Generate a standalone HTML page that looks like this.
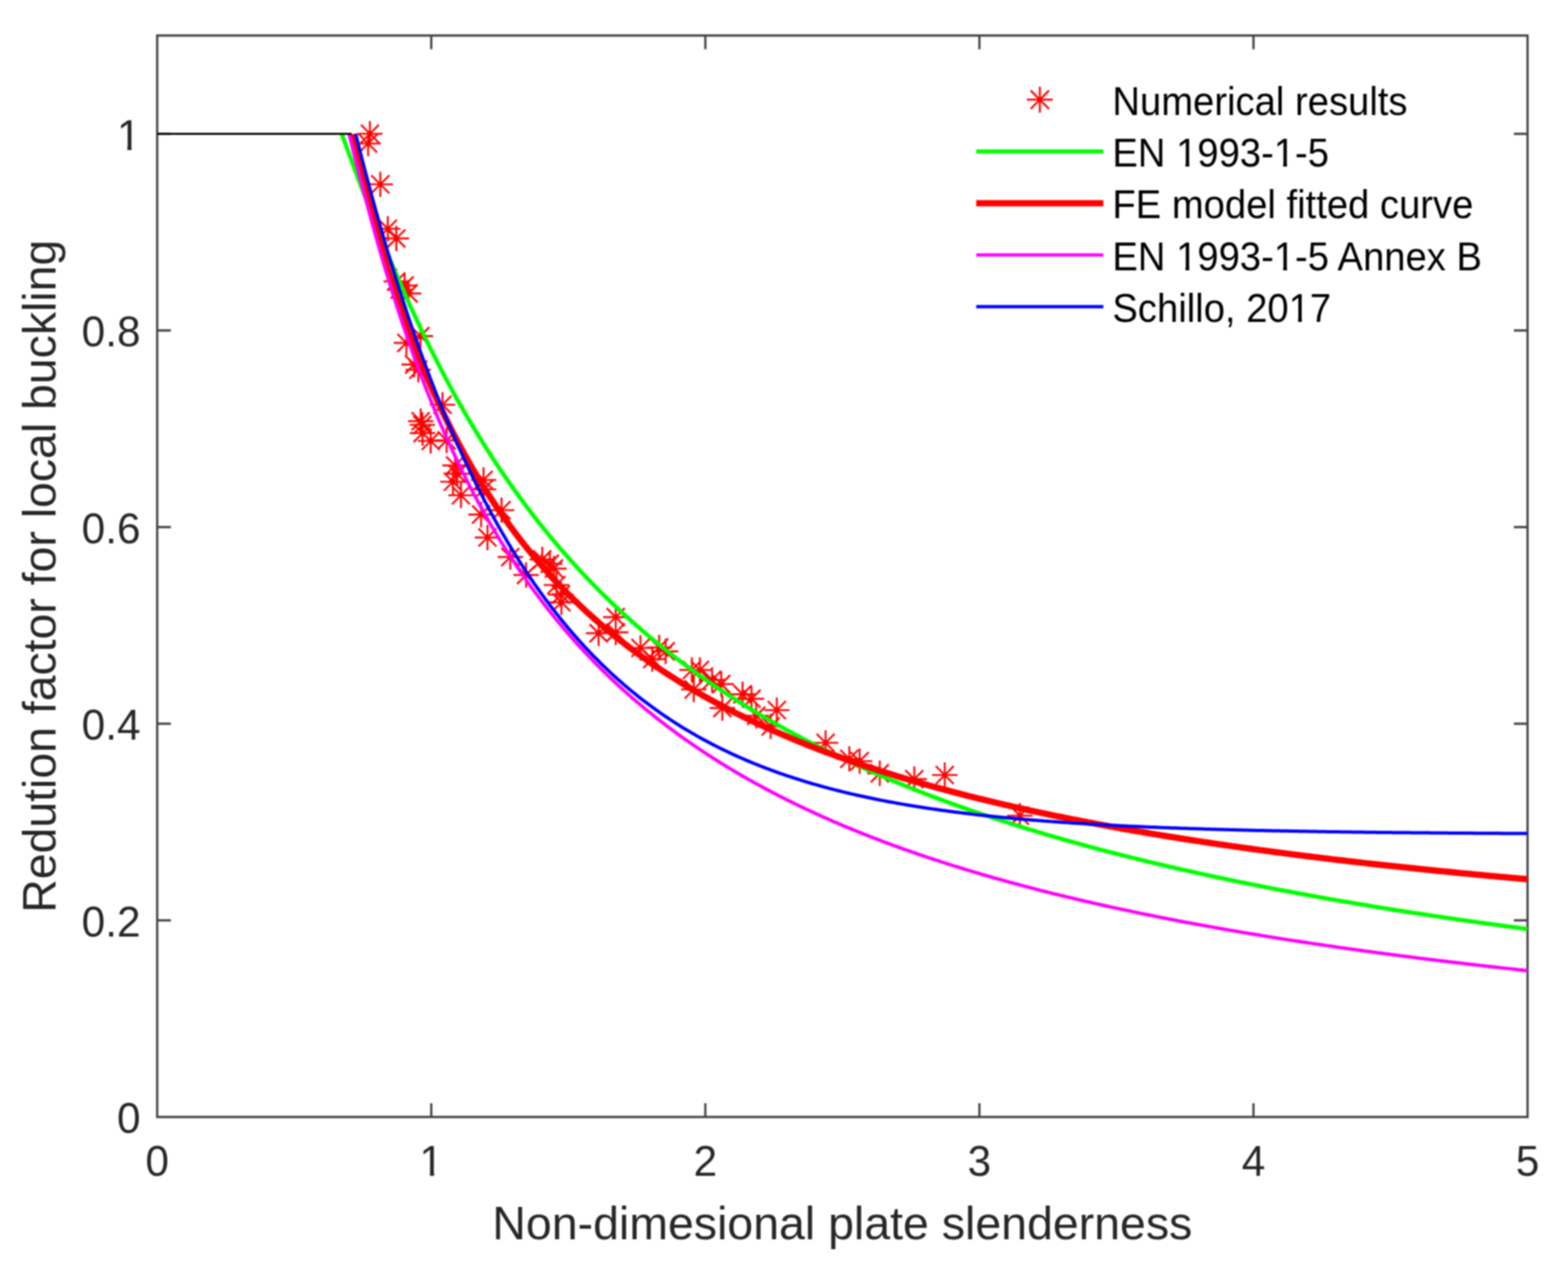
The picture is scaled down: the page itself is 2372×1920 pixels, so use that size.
<!DOCTYPE html><html><head><meta charset="utf-8"><title>Reduction factor plot</title>
<style>html,body{margin:0;padding:0;background:#fff;}svg{display:block;filter:blur(0.8px);}text{font-family:"Liberation Sans",Arial,Helvetica,sans-serif;fill:#262626;}</style></head><body>
<svg xmlns="http://www.w3.org/2000/svg" width="2372" height="1920" viewBox="0 0 2372 1920">
<rect width="2372" height="1920" fill="#fff"/>
<path d="M237.80 1690.00H2310.80V53.75H237.80ZM652.40 1690.00V1671.00M652.40 53.75V72.75M1067.00 1690.00V1671.00M1067.00 53.75V72.75M1481.60 1690.00V1671.00M1481.60 53.75V72.75M1896.20 1690.00V1671.00M1896.20 53.75V72.75M237.80 1392.50H256.80M2310.80 1392.50H2291.80M237.80 1095.00H256.80M2310.80 1095.00H2291.80M237.80 797.50H256.80M2310.80 797.50H2291.80M237.80 500.00H256.80M2310.80 500.00H2291.80M237.80 202.50H256.80M2310.80 202.50H2291.80" fill="none" stroke="#444444" stroke-width="3.40" stroke-linecap="square"/>
<clipPath id="c"><rect x="237.80" y="53.75" width="2073.00" height="1636.25"/></clipPath>
<g clip-path="url(#c)" fill="none" stroke-linejoin="round">
<path d="M559.6 183.2V221.6M540.4 202.4H578.8M546.0 188.8L573.2 216.0M546.0 216.0L573.2 188.8M556.9 197.9V236.3M537.7 217.1H576.1M543.3 203.5L570.5 230.7M543.3 230.7L570.5 203.5M575.3 259.7V298.1M556.1 278.9H594.5M561.7 265.3L588.9 292.5M561.7 292.5L588.9 265.3M586.7 326.9V365.3M567.5 346.1H605.9M573.1 332.5L600.3 359.7M573.1 359.7L600.3 332.5M599.6 341.6V380.0M580.4 360.8H618.8M586.0 347.2L613.2 374.4M586.0 374.4L613.2 347.2M612.0 412.8V451.2M592.8 432.0H631.2M598.4 418.4L625.6 445.6M598.4 445.6L625.6 418.4M618.1 424.8V463.2M598.9 444.0H637.3M604.5 430.4L631.7 457.6M604.5 457.6L631.7 430.4M599.5 406.6V445.0M580.3 425.8H618.7M585.9 412.2L613.1 439.4M585.9 439.4L613.1 412.2M604.6 419.0V457.4M585.4 438.2H623.8M591.0 424.6L618.2 451.8M591.0 451.8L618.2 424.6M636.0 489.3V527.7M616.8 508.5H655.2M622.4 494.9L649.6 522.1M622.4 522.1L649.6 494.9M614.8 499.6V538.0M595.6 518.8H634.0M601.2 505.2L628.4 532.4M601.2 532.4L628.4 505.2M626.5 532.3V570.7M607.3 551.5H645.7M612.9 537.9L640.1 565.1M612.9 565.1L640.1 537.9M632.8 540.2V578.6M613.6 559.4H652.0M619.2 545.8L646.4 573.0M619.2 573.0L646.4 545.8M669.4 593.2V631.6M650.2 612.4H688.6M655.8 598.8L683.0 626.0M655.8 626.0L683.0 598.8M636.4 618.1V656.5M617.2 637.3H655.6M622.8 623.7L650.0 650.9M622.8 650.9L650.0 623.7M638.9 623.7V662.1M619.7 642.9H658.1M625.3 629.3L652.5 656.5M625.3 656.5L652.5 629.3M639.3 636.1V674.5M620.1 655.3H658.5M625.7 641.7L652.9 668.9M625.7 668.9L652.9 641.7M651.5 647.9V686.3M632.3 667.1H670.7M637.9 653.5L665.1 680.7M637.9 680.7L665.1 653.5M675.7 647.1V685.5M656.5 666.3H694.9M662.1 652.7L689.3 679.9M662.1 679.9L689.3 652.7M688.4 685.1V723.5M669.2 704.3H707.6M674.8 690.7L702.0 717.9M674.8 717.9L702.0 690.7M691.6 697.6V736.0M672.4 716.8H710.8M678.0 703.2L705.2 730.4M678.0 730.4L705.2 703.2M685.2 709.7V748.1M666.0 728.9H704.4M671.6 715.3L698.8 742.5M671.6 742.5L698.8 715.3M697.3 730.2V768.6M678.1 749.4H716.5M683.7 735.8L710.9 763.0M683.7 763.0L710.9 735.8M731.5 706.9V745.3M712.3 726.1H750.7M717.9 712.5L745.1 739.7M717.9 739.7L745.1 712.5M758.7 752.7V791.1M739.5 771.9H777.9M745.1 758.3L772.3 785.5M745.1 785.5L772.3 758.3M727.8 759.3V797.7M708.6 778.5H747.0M714.2 764.9L741.4 792.1M714.2 792.1L741.4 764.9M731.7 721.2V759.6M712.5 740.4H750.9M718.1 726.8L745.3 754.0M718.1 754.0L745.3 726.8M737.4 794.0V832.4M718.2 813.2H756.6M723.8 799.6L751.0 826.8M723.8 826.8L751.0 799.6M772.0 823.6V862.0M752.8 842.8H791.2M758.4 829.2L785.6 856.4M758.4 856.4L785.6 829.2M795.8 850.8V889.2M776.6 870.0H815.0M782.2 856.4L809.4 883.6M782.2 883.6L809.4 856.4M820.3 827.3V865.7M801.1 846.5H839.5M806.7 832.9L833.9 860.1M806.7 860.1L833.9 832.9M831.7 833.8V872.2M812.5 853.0H850.9M818.1 839.4L845.3 866.6M818.1 866.6L845.3 839.4M837.9 841.0V879.4M818.7 860.2H857.1M824.3 846.6L851.5 873.8M824.3 873.8L851.5 846.6M841.8 865.9V904.3M822.6 885.1H861.0M828.2 871.5L855.4 898.7M828.2 898.7L855.4 871.5M848.5 880.4V918.8M829.3 899.6H867.7M834.9 886.0L862.1 913.2M834.9 913.2L862.1 886.0M849.3 892.0V930.4M830.1 911.2H868.5M835.7 897.6L862.9 924.8M835.7 924.8L862.9 897.6M905.5 938.8V977.2M886.3 958.0H924.7M891.9 944.4L919.1 971.6M891.9 971.6L919.1 944.4M931.4 914.5V952.9M912.2 933.7H950.6M917.8 920.1L945.0 947.3M917.8 947.3L945.0 920.1M931.4 937.6V976.0M912.2 956.8H950.6M917.8 943.2L945.0 970.4M917.8 970.4L945.0 943.2M968.9 961.2V999.6M949.7 980.4H988.1M955.3 966.8L982.5 994.0M955.3 994.0L982.5 966.8M986.7 978.0V1016.4M967.5 997.2H1005.9M973.1 983.6L1000.3 1010.8M973.1 1010.8L1000.3 983.6M997.1 960.5V998.9M977.9 979.7H1016.3M983.5 966.1L1010.7 993.3M983.5 993.3L1010.7 966.1M1007.0 966.3V1004.7M987.8 985.5H1026.2M993.4 971.9L1020.6 999.1M993.4 999.1L1020.6 971.9M1049.5 1023.9V1062.3M1030.3 1043.1H1068.7M1035.9 1029.5L1063.1 1056.7M1035.9 1056.7L1063.1 1029.5M1046.7 994.4V1032.8M1027.5 1013.6H1065.9M1033.1 1000.0L1060.3 1027.2M1033.1 1027.2L1060.3 1000.0M1058.8 994.4V1032.8M1039.6 1013.6H1078.0M1045.2 1000.0L1072.4 1027.2M1045.2 1027.2L1072.4 1000.0M1077.2 1009.4V1047.8M1058.0 1028.6H1096.4M1063.6 1015.0L1090.8 1042.2M1063.6 1042.2L1090.8 1015.0M1091.1 1015.8V1054.2M1071.9 1035.0H1110.3M1077.5 1021.4L1104.7 1048.6M1077.5 1048.6L1104.7 1021.4M1092.7 1052.1V1090.5M1073.5 1071.3H1111.9M1079.1 1057.7L1106.3 1084.9M1079.1 1084.9L1106.3 1057.7M1123.3 1031.3V1069.7M1104.1 1050.5H1142.5M1109.7 1036.9L1136.9 1064.1M1109.7 1064.1L1136.9 1036.9M1136.9 1038.0V1076.4M1117.7 1057.2H1156.1M1123.3 1043.6L1150.5 1070.8M1123.3 1070.8L1150.5 1043.6M1175.1 1055.2V1093.6M1155.9 1074.4H1194.3M1161.5 1060.8L1188.7 1088.0M1161.5 1088.0L1188.7 1060.8M1165.9 1079.9V1118.3M1146.7 1099.1H1185.1M1152.3 1085.5L1179.5 1112.7M1152.3 1112.7L1179.5 1085.5M1144.0 1063.8V1102.2M1124.8 1083.0H1163.2M1130.4 1069.4L1157.6 1096.6M1130.4 1096.6L1157.6 1069.4M1248.9 1104.7V1143.1M1229.7 1123.9H1268.1M1235.3 1110.3L1262.5 1137.5M1235.3 1137.5L1262.5 1110.3M1284.8 1128.9V1167.3M1265.6 1148.1H1304.0M1271.2 1134.5L1298.4 1161.7M1271.2 1161.7L1298.4 1134.5M1300.4 1132.4V1170.8M1281.2 1151.6H1319.6M1286.8 1138.0L1314.0 1165.2M1286.8 1165.2L1314.0 1138.0M1330.9 1150.8V1189.2M1311.7 1170.0H1350.1M1317.3 1156.4L1344.5 1183.6M1317.3 1183.6L1344.5 1156.4M1383.1 1159.6V1198.0M1363.9 1178.8H1402.3M1369.5 1165.2L1396.7 1192.4M1369.5 1192.4L1396.7 1165.2M1429.2 1153.4V1191.8M1410.0 1172.6H1448.4M1415.6 1159.0L1442.8 1186.2M1415.6 1186.2L1442.8 1159.0M1542.8 1214.9V1253.3M1523.6 1234.1H1562.0M1529.2 1220.5L1556.4 1247.7M1529.2 1247.7L1556.4 1220.5" stroke="#ff0000" stroke-width="2.9"/>
<path d="M516.83,202.50 L518.11,205.79 L519.40,209.31 L520.68,212.83 L521.97,216.35 L523.25,219.86 L524.54,223.37 L525.82,226.88 L527.11,230.38 L528.39,233.88 L529.68,237.37 L530.97,240.85 L532.25,244.34 L533.54,247.81 L534.82,251.28 L536.11,254.74 L537.39,258.20 L538.68,261.65 L539.96,265.10 L541.25,268.53 L542.53,271.96 L543.82,275.39 L545.10,278.80 L546.39,282.21 L547.68,285.61 L548.96,289.00 L550.25,292.38 L551.53,295.76 L552.82,299.12 L554.10,302.48 L555.39,305.83 L556.67,309.17 L557.96,312.50 L559.24,315.83 L560.53,319.14 L561.81,322.44 L563.10,325.74 L564.39,329.03 L565.67,332.30 L566.96,335.57 L568.24,338.82 L569.53,342.07 L570.81,345.31 L572.10,348.54 L573.38,351.75 L574.67,354.96 L575.95,358.16 L577.24,361.35 L578.52,364.53 L579.81,367.69 L581.10,370.85 L582.38,374.00 L583.67,377.13 L584.95,380.26 L586.24,383.38 L587.52,386.48 L588.81,389.58 L590.09,392.66 L591.38,395.74 L592.66,398.80 L593.95,401.85 L595.24,404.90 L596.52,407.93 L597.81,410.95 L599.09,413.97 L600.38,416.97 L601.66,419.96 L602.95,422.94 L604.23,425.91 L605.52,428.87 L606.80,431.82 L608.09,434.75 L609.37,437.68 L610.66,440.60 L611.95,443.51 L613.23,446.40 L614.52,449.29 L615.80,452.17 L617.09,455.03 L618.37,457.89 L619.66,460.73 L620.94,463.56 L622.23,466.39 L623.51,469.20 L624.80,472.01 L626.08,474.80 L627.37,477.58 L628.66,480.35 L629.94,483.11 L631.23,485.87 L632.51,488.61 L633.80,491.34 L635.08,494.06 L636.37,496.77 L637.65,499.47 L638.94,502.16 L640.22,504.85 L641.51,507.52 L642.79,510.18 L644.08,512.83 L645.37,515.47 L646.65,518.10 L647.94,520.72 L649.22,523.33 L650.51,525.94 L651.79,528.53 L653.08,531.11 L654.36,533.68 L655.65,536.25 L656.93,538.80 L658.22,541.34 L659.51,543.88 L660.79,546.40 L662.08,548.92 L663.36,551.42 L664.65,553.92 L665.93,556.41 L667.22,558.88 L668.50,561.35 L669.79,563.81 L671.07,566.26 L672.36,568.70 L673.64,571.13 L674.93,573.55 L676.22,575.97 L677.50,578.37 L678.79,580.76 L680.07,583.15 L681.36,585.53 L682.64,587.89 L683.93,590.25 L685.21,592.60 L686.50,594.94 L687.78,597.28 L689.07,599.60 L690.35,601.91 L691.64,604.22 L692.93,606.52 L694.21,608.81 L695.50,611.09 L696.78,613.36 L698.07,615.62 L699.35,617.88 L700.64,620.12 L701.92,622.36 L703.21,624.59 L704.49,626.81 L705.78,629.02 L707.06,631.23 L708.35,633.42 L709.64,635.61 L710.92,637.79 L712.21,639.96 L713.49,642.13 L714.78,644.28 L716.06,646.43 L717.35,648.57 L718.63,650.70 L719.92,652.83 L721.20,654.94 L722.49,657.05 L723.77,659.15 L725.06,661.24 L726.35,663.33 L727.63,665.41 L728.92,667.48 L730.20,669.54 L731.49,671.59 L732.77,673.64 L734.06,675.68 L735.34,677.71 L736.63,679.74 L737.91,681.75 L739.20,683.76 L740.49,685.76 L741.77,687.76 L743.06,689.75 L744.34,691.73 L745.63,693.70 L746.91,695.67 L748.20,697.63 L749.48,699.58 L750.77,701.52 L752.05,703.46 L753.34,705.39 L754.62,707.31 L755.91,709.23 L757.20,711.14 L758.48,713.04 L759.77,714.94 L761.05,716.83 L762.34,718.71 L763.62,720.59 L764.91,722.46 L766.19,724.32 L767.48,726.18 L768.76,728.02 L770.05,729.87 L771.33,731.70 L772.62,733.53 L773.91,735.36 L775.19,737.17 L776.48,738.98 L777.76,740.79 L779.05,742.58 L780.33,744.37 L781.62,746.16 L782.90,747.94 L784.19,749.71 L785.47,751.47 L786.76,753.23 L788.04,754.99 L789.33,756.73 L790.62,758.47 L791.90,760.21 L793.19,761.94 L794.47,763.66 L795.76,765.38 L797.04,767.09 L798.33,768.79 L799.61,770.49 L800.90,772.19 L802.18,773.87 L803.47,775.55 L804.76,777.23 L806.04,778.90 L807.33,780.56 L808.61,782.22 L809.90,783.87 L811.18,785.52 L812.47,787.16 L813.75,788.80 L815.04,790.43 L816.32,792.05 L817.61,793.67 L818.89,795.29 L820.18,796.89 L821.47,798.50 L822.75,800.09 L824.04,801.68 L825.32,803.27 L826.61,804.85 L827.89,806.43 L829.18,808.00 L830.46,809.56 L831.75,811.12 L833.03,812.68 L834.32,814.22 L835.60,815.77 L836.89,817.31 L838.18,818.84 L839.46,820.37 L840.75,821.89 L842.03,823.41 L843.32,824.92 L844.60,826.43 L845.89,827.94 L847.17,829.43 L848.46,830.93 L849.74,832.42 L851.03,833.90 L852.31,835.38 L853.60,836.85 L854.89,838.32 L856.17,839.78 L857.46,841.24 L858.74,842.70 L860.03,844.15 L861.31,845.59 L862.60,847.03 L863.88,848.47 L865.17,849.90 L866.45,851.32 L867.74,852.75 L869.03,854.16 L870.31,855.57 L871.60,856.98 L872.88,858.39 L874.17,859.78 L875.45,861.18 L876.74,862.57 L878.02,863.95 L879.31,865.33 L880.59,866.71 L881.88,868.08 L883.16,869.45 L884.45,870.81 L885.74,872.17 L887.02,873.53 L888.31,874.88 L889.59,876.22 L890.88,877.56 L892.16,878.90 L893.45,880.23 L894.73,881.56 L896.02,882.89 L897.30,884.21 L898.59,885.52 L899.87,886.84 L901.16,888.14 L905.87,892.91 L910.59,897.62 L915.30,902.27 L920.02,906.87 L924.73,911.42 L929.45,915.92 L934.16,920.37 L938.88,924.78 L943.59,929.13 L948.31,933.43 L953.02,937.69 L957.73,941.90 L962.45,946.07 L967.16,950.19 L971.88,954.26 L976.59,958.30 L981.31,962.29 L986.02,966.23 L990.74,970.14 L995.45,974.01 L1000.16,977.83 L1004.88,981.62 L1009.59,985.37 L1014.31,989.07 L1019.02,992.74 L1023.74,996.38 L1028.45,999.97 L1033.17,1003.53 L1037.88,1007.06 L1042.60,1010.55 L1047.31,1014.00 L1052.02,1017.42 L1056.74,1020.81 L1061.45,1024.16 L1066.17,1027.48 L1070.88,1030.77 L1075.60,1034.02 L1080.31,1037.25 L1085.03,1040.44 L1089.74,1043.61 L1094.46,1046.74 L1099.17,1049.84 L1103.88,1052.92 L1108.60,1055.96 L1113.31,1058.98 L1118.03,1061.97 L1122.74,1064.93 L1127.46,1067.86 L1132.17,1070.77 L1136.89,1073.65 L1141.60,1076.50 L1146.31,1079.33 L1151.03,1082.13 L1155.74,1084.91 L1160.46,1087.66 L1165.17,1090.39 L1169.89,1093.10 L1174.60,1095.78 L1179.32,1098.43 L1184.03,1101.06 L1188.75,1103.67 L1193.46,1106.26 L1198.17,1108.83 L1202.89,1111.37 L1207.60,1113.89 L1212.32,1116.39 L1217.03,1118.87 L1221.75,1121.32 L1226.46,1123.76 L1231.18,1126.17 L1235.89,1128.57 L1240.61,1130.95 L1245.32,1133.30 L1250.03,1135.64 L1254.75,1137.95 L1259.46,1140.25 L1264.18,1142.53 L1268.89,1144.79 L1273.61,1147.03 L1278.32,1149.26 L1283.04,1151.46 L1287.75,1153.65 L1292.46,1155.82 L1297.18,1157.97 L1301.89,1160.11 L1306.61,1162.23 L1311.32,1164.33 L1316.04,1166.42 L1320.75,1168.49 L1325.47,1170.54 L1330.18,1172.58 L1334.90,1174.60 L1339.61,1176.61 L1344.32,1178.60 L1349.04,1180.57 L1353.75,1182.53 L1358.47,1184.48 L1363.18,1186.41 L1367.90,1188.33 L1372.61,1190.23 L1377.33,1192.11 L1382.04,1193.99 L1386.76,1195.85 L1391.47,1197.69 L1396.18,1199.53 L1400.90,1201.35 L1405.61,1203.15 L1410.33,1204.94 L1415.04,1206.72 L1419.76,1208.49 L1424.47,1210.24 L1429.19,1211.98 L1433.90,1213.71 L1438.61,1215.43 L1443.33,1217.13 L1448.04,1218.82 L1452.76,1220.50 L1457.47,1222.17 L1462.19,1223.83 L1466.90,1225.47 L1471.62,1227.11 L1476.33,1228.73 L1481.05,1230.34 L1485.76,1231.94 L1490.47,1233.53 L1495.19,1235.10 L1499.90,1236.67 L1504.62,1238.23 L1509.33,1239.77 L1514.05,1241.31 L1518.76,1242.83 L1523.48,1244.35 L1528.19,1245.85 L1532.91,1247.35 L1537.62,1248.83 L1542.33,1250.31 L1547.05,1251.77 L1551.76,1253.22 L1556.48,1254.67 L1561.19,1256.11 L1565.91,1257.53 L1570.62,1258.95 L1575.34,1260.36 L1580.05,1261.76 L1584.76,1263.15 L1589.48,1264.53 L1594.19,1265.90 L1598.91,1267.26 L1603.62,1268.62 L1608.34,1269.96 L1613.05,1271.30 L1617.77,1272.63 L1622.48,1273.95 L1627.20,1275.27 L1631.91,1276.57 L1636.62,1277.87 L1641.34,1279.15 L1646.05,1280.43 L1650.77,1281.71 L1655.48,1282.97 L1660.20,1284.23 L1664.91,1285.48 L1669.63,1286.72 L1674.34,1287.95 L1679.05,1289.18 L1683.77,1290.40 L1688.48,1291.61 L1693.20,1292.81 L1697.91,1294.01 L1702.63,1295.20 L1707.34,1296.38 L1712.06,1297.56 L1716.77,1298.73 L1721.49,1299.89 L1726.20,1301.04 L1730.91,1302.19 L1735.63,1303.33 L1740.34,1304.47 L1745.06,1305.60 L1749.77,1306.72 L1754.49,1307.83 L1759.20,1308.94 L1763.92,1310.04 L1768.63,1311.14 L1773.35,1312.23 L1778.06,1313.31 L1782.77,1314.39 L1787.49,1315.46 L1792.20,1316.53 L1796.92,1317.59 L1801.63,1318.64 L1806.35,1319.69 L1811.06,1320.73 L1815.78,1321.76 L1820.49,1322.79 L1825.20,1323.82 L1829.92,1324.84 L1834.63,1325.85 L1839.35,1326.86 L1844.06,1327.86 L1848.78,1328.85 L1853.49,1329.84 L1858.21,1330.83 L1862.92,1331.81 L1867.64,1332.78 L1872.35,1333.75 L1877.06,1334.72 L1881.78,1335.68 L1886.49,1336.63 L1891.21,1337.58 L1895.92,1338.52 L1900.64,1339.46 L1905.35,1340.40 L1910.07,1341.32 L1914.78,1342.25 L1919.50,1343.17 L1924.21,1344.08 L1928.92,1344.99 L1933.64,1345.89 L1938.35,1346.79 L1943.07,1347.69 L1947.78,1348.58 L1952.50,1349.47 L1957.21,1350.35 L1961.93,1351.22 L1966.64,1352.10 L1971.35,1352.97 L1976.07,1353.83 L1980.78,1354.69 L1985.50,1355.54 L1990.21,1356.39 L1994.93,1357.24 L1999.64,1358.08 L2004.36,1358.92 L2009.07,1359.75 L2013.79,1360.58 L2018.50,1361.41 L2023.21,1362.23 L2027.93,1363.04 L2032.64,1363.86 L2037.36,1364.67 L2042.07,1365.47 L2046.79,1366.27 L2051.50,1367.07 L2056.22,1367.86 L2060.93,1368.65 L2065.65,1369.44 L2070.36,1370.22 L2075.07,1370.99 L2079.79,1371.77 L2084.50,1372.54 L2089.22,1373.31 L2093.93,1374.07 L2098.65,1374.83 L2103.36,1375.58 L2108.08,1376.33 L2112.79,1377.08 L2117.50,1377.83 L2122.22,1378.57 L2126.93,1379.31 L2131.65,1380.04 L2136.36,1380.77 L2141.08,1381.50 L2145.79,1382.22 L2150.51,1382.94 L2155.22,1383.66 L2159.94,1384.38 L2164.65,1385.09 L2169.36,1385.79 L2174.08,1386.50 L2178.79,1387.20 L2183.51,1387.90 L2188.22,1388.59 L2192.94,1389.28 L2197.65,1389.97 L2202.37,1390.65 L2207.08,1391.34 L2211.80,1392.01 L2216.51,1392.69 L2221.22,1393.36 L2225.94,1394.03 L2230.65,1394.70 L2235.37,1395.36 L2240.08,1396.02 L2244.80,1396.68 L2249.51,1397.34 L2254.23,1397.99 L2258.94,1398.64 L2263.65,1399.28 L2268.37,1399.93 L2273.08,1400.57 L2277.80,1401.20 L2282.51,1401.84 L2287.23,1402.47 L2291.94,1403.10 L2296.66,1403.73 L2301.37,1404.35 L2306.09,1404.97 L2310.80,1405.59" stroke="#00ff00" stroke-width="6.3"/>
<path d="M533.33,202.98 L534.56,208.52 L535.79,214.02 L537.02,219.47 L538.25,224.88 L539.48,230.24 L540.71,235.55 L541.94,240.83 L543.17,246.06 L544.40,251.24 L545.63,256.39 L546.86,261.49 L548.09,266.56 L549.32,271.58 L550.55,276.56 L551.78,281.50 L553.01,286.41 L554.24,291.27 L555.47,296.10 L556.70,300.89 L557.93,305.64 L559.16,310.36 L560.39,315.04 L561.62,319.68 L562.85,324.29 L564.08,328.86 L565.31,333.40 L566.54,337.90 L567.77,342.37 L569.00,346.80 L570.23,351.21 L571.46,355.58 L572.69,359.91 L573.92,364.22 L575.15,368.49 L576.38,372.73 L577.61,376.94 L578.84,381.12 L580.07,385.27 L581.31,389.39 L582.54,393.48 L583.77,397.54 L585.00,401.57 L586.23,405.57 L587.46,409.55 L588.69,413.49 L589.92,417.41 L591.15,421.30 L592.38,425.16 L593.61,429.00 L594.84,432.80 L596.07,436.59 L597.30,440.34 L598.53,444.07 L599.76,447.78 L600.99,451.46 L602.22,455.11 L603.45,458.74 L604.68,462.34 L605.91,465.92 L607.14,469.48 L608.37,473.01 L609.60,476.52 L610.83,480.00 L612.06,483.46 L613.29,486.90 L614.52,490.32 L615.75,493.71 L616.98,497.08 L618.21,500.43 L619.44,503.76 L620.67,507.06 L621.90,510.35 L623.13,513.61 L624.36,516.85 L625.59,520.07 L626.82,523.27 L628.05,526.45 L629.28,529.61 L630.51,532.75 L631.74,535.87 L632.97,538.97 L634.20,542.05 L635.43,545.11 L636.66,548.16 L637.89,551.18 L639.13,554.18 L640.36,557.17 L641.59,560.14 L642.82,563.09 L644.05,566.02 L645.28,568.93 L646.51,571.83 L647.74,574.70 L648.97,577.56 L650.20,580.41 L651.43,583.23 L652.66,586.04 L653.89,588.83 L655.12,591.61 L656.35,594.37 L657.58,597.11 L658.81,599.84 L660.04,602.55 L661.27,605.24 L662.50,607.92 L663.73,610.58 L664.96,613.23 L666.19,615.86 L667.42,618.48 L668.65,621.08 L669.88,623.67 L671.11,626.24 L672.34,628.80 L673.57,631.34 L674.80,633.87 L676.03,636.38 L677.26,638.88 L678.49,641.36 L679.72,643.83 L680.95,646.29 L682.18,648.74 L683.41,651.17 L684.64,653.58 L685.87,655.98 L687.10,658.37 L688.33,660.75 L689.56,663.11 L690.79,665.46 L692.02,667.80 L693.25,670.12 L694.48,672.44 L695.71,674.74 L696.94,677.02 L698.18,679.30 L699.41,681.56 L700.64,683.81 L701.87,686.05 L703.10,688.27 L704.33,690.49 L705.56,692.69 L706.79,694.88 L708.02,697.06 L709.25,699.23 L710.48,701.38 L711.71,703.53 L712.94,705.66 L714.17,707.78 L715.40,709.89 L716.63,711.99 L717.86,714.08 L719.09,716.16 L720.32,718.23 L721.55,720.29 L722.78,722.33 L724.01,724.37 L725.24,726.39 L726.47,728.41 L727.70,730.41 L728.93,732.41 L730.16,734.39 L731.39,736.37 L732.62,738.33 L733.85,740.29 L735.08,742.23 L736.31,744.17 L737.54,746.09 L738.77,748.01 L740.00,749.92 L741.23,751.81 L742.46,753.70 L743.69,755.58 L744.92,757.45 L746.15,759.31 L747.38,761.16 L748.61,763.00 L749.84,764.84 L751.07,766.66 L752.30,768.48 L753.53,770.28 L754.76,772.08 L756.00,773.87 L757.23,775.65 L758.46,777.42 L759.69,779.19 L760.92,780.94 L762.15,782.69 L763.38,784.43 L764.61,786.16 L765.84,787.88 L767.07,789.59 L768.30,791.30 L769.53,793.00 L770.76,794.69 L771.99,796.37 L773.22,798.05 L774.45,799.71 L775.68,801.37 L776.91,803.02 L778.14,804.67 L779.37,806.30 L780.60,807.93 L781.83,809.55 L783.06,811.17 L784.29,812.77 L785.52,814.37 L786.75,815.96 L787.98,817.55 L789.21,819.13 L790.44,820.70 L791.67,822.26 L792.90,823.82 L794.13,825.37 L795.36,826.91 L796.59,828.44 L797.82,829.97 L799.05,831.49 L800.28,833.01 L801.51,834.52 L802.74,836.02 L803.97,837.52 L805.20,839.00 L806.43,840.49 L807.66,841.96 L808.89,843.43 L810.12,844.89 L811.35,846.35 L812.58,847.80 L813.82,849.24 L815.05,850.68 L816.28,852.11 L817.51,853.54 L818.74,854.96 L819.97,856.37 L821.20,857.78 L822.43,859.18 L823.66,860.57 L824.89,861.96 L826.12,863.35 L827.35,864.72 L828.58,866.10 L829.81,867.46 L831.04,868.82 L832.27,870.18 L833.50,871.53 L834.73,872.87 L835.96,874.21 L837.19,875.54 L838.42,876.87 L839.65,878.19 L840.88,879.50 L842.11,880.81 L843.34,882.12 L844.57,883.42 L845.80,884.71 L847.03,886.00 L848.26,887.28 L849.49,888.56 L850.72,889.83 L851.95,891.10 L853.18,892.36 L854.41,893.62 L855.64,894.88 L856.87,896.12 L858.10,897.37 L859.33,898.60 L860.56,899.84 L861.79,901.06 L863.02,902.29 L864.25,903.50 L865.48,904.72 L866.71,905.93 L867.94,907.13 L869.17,908.33 L870.40,909.52 L871.63,910.71 L872.87,911.90 L874.10,913.08 L875.33,914.25 L876.56,915.42 L877.79,916.59 L879.02,917.75 L880.25,918.91 L881.48,920.06 L882.71,921.21 L883.94,922.35 L885.17,923.49 L886.40,924.63 L887.63,925.76 L888.86,926.89 L890.09,928.01 L891.32,929.13 L892.55,930.24 L893.78,931.35 L895.01,932.45 L896.24,933.55 L897.47,934.65 L898.70,935.74 L899.93,936.83 L901.16,937.92 L905.87,942.04 L910.59,946.10 L915.30,950.10 L920.02,954.05 L924.73,957.94 L929.45,961.78 L934.16,965.56 L938.88,969.30 L943.59,972.98 L948.31,976.62 L953.02,980.20 L957.73,983.74 L962.45,987.23 L967.16,990.68 L971.88,994.08 L976.59,997.44 L981.31,1000.75 L986.02,1004.02 L990.74,1007.25 L995.45,1010.44 L1000.16,1013.59 L1004.88,1016.70 L1009.59,1019.78 L1014.31,1022.81 L1019.02,1025.81 L1023.74,1028.77 L1028.45,1031.69 L1033.17,1034.58 L1037.88,1037.44 L1042.60,1040.26 L1047.31,1043.05 L1052.02,1045.80 L1056.74,1048.53 L1061.45,1051.22 L1066.17,1053.88 L1070.88,1056.51 L1075.60,1059.11 L1080.31,1061.68 L1085.03,1064.22 L1089.74,1066.74 L1094.46,1069.22 L1099.17,1071.68 L1103.88,1074.11 L1108.60,1076.52 L1113.31,1078.89 L1118.03,1081.25 L1122.74,1083.57 L1127.46,1085.88 L1132.17,1088.15 L1136.89,1090.41 L1141.60,1092.64 L1146.31,1094.84 L1151.03,1097.02 L1155.74,1099.18 L1160.46,1101.32 L1165.17,1103.44 L1169.89,1105.53 L1174.60,1107.60 L1179.32,1109.66 L1184.03,1111.69 L1188.75,1113.70 L1193.46,1115.69 L1198.17,1117.66 L1202.89,1119.61 L1207.60,1121.54 L1212.32,1123.46 L1217.03,1125.35 L1221.75,1127.23 L1226.46,1129.08 L1231.18,1130.92 L1235.89,1132.75 L1240.61,1134.55 L1245.32,1136.34 L1250.03,1138.11 L1254.75,1139.87 L1259.46,1141.60 L1264.18,1143.33 L1268.89,1145.03 L1273.61,1146.72 L1278.32,1148.40 L1283.04,1150.06 L1287.75,1151.70 L1292.46,1153.33 L1297.18,1154.95 L1301.89,1156.55 L1306.61,1158.13 L1311.32,1159.71 L1316.04,1161.26 L1320.75,1162.81 L1325.47,1164.34 L1330.18,1165.86 L1334.90,1167.36 L1339.61,1168.85 L1344.32,1170.33 L1349.04,1171.80 L1353.75,1173.25 L1358.47,1174.69 L1363.18,1176.12 L1367.90,1177.53 L1372.61,1178.94 L1377.33,1180.33 L1382.04,1181.71 L1386.76,1183.08 L1391.47,1184.44 L1396.18,1185.79 L1400.90,1187.12 L1405.61,1188.45 L1410.33,1189.76 L1415.04,1191.07 L1419.76,1192.36 L1424.47,1193.64 L1429.19,1194.92 L1433.90,1196.18 L1438.61,1197.43 L1443.33,1198.67 L1448.04,1199.90 L1452.76,1201.13 L1457.47,1202.34 L1462.19,1203.54 L1466.90,1204.74 L1471.62,1205.92 L1476.33,1207.10 L1481.05,1208.27 L1485.76,1209.43 L1490.47,1210.58 L1495.19,1211.72 L1499.90,1212.85 L1504.62,1213.97 L1509.33,1215.09 L1514.05,1216.19 L1518.76,1217.29 L1523.48,1218.38 L1528.19,1219.46 L1532.91,1220.54 L1537.62,1221.60 L1542.33,1222.66 L1547.05,1223.71 L1551.76,1224.76 L1556.48,1225.79 L1561.19,1226.82 L1565.91,1227.84 L1570.62,1228.86 L1575.34,1229.86 L1580.05,1230.86 L1584.76,1231.85 L1589.48,1232.84 L1594.19,1233.82 L1598.91,1234.79 L1603.62,1235.75 L1608.34,1236.71 L1613.05,1237.66 L1617.77,1238.60 L1622.48,1239.54 L1627.20,1240.47 L1631.91,1241.40 L1636.62,1242.32 L1641.34,1243.23 L1646.05,1244.14 L1650.77,1245.04 L1655.48,1245.93 L1660.20,1246.82 L1664.91,1247.70 L1669.63,1248.58 L1674.34,1249.45 L1679.05,1250.31 L1683.77,1251.17 L1688.48,1252.03 L1693.20,1252.87 L1697.91,1253.72 L1702.63,1254.55 L1707.34,1255.38 L1712.06,1256.21 L1716.77,1257.03 L1721.49,1257.85 L1726.20,1258.66 L1730.91,1259.46 L1735.63,1260.26 L1740.34,1261.06 L1745.06,1261.84 L1749.77,1262.63 L1754.49,1263.41 L1759.20,1264.18 L1763.92,1264.95 L1768.63,1265.72 L1773.35,1266.48 L1778.06,1267.24 L1782.77,1267.99 L1787.49,1268.73 L1792.20,1269.47 L1796.92,1270.21 L1801.63,1270.94 L1806.35,1271.67 L1811.06,1272.40 L1815.78,1273.12 L1820.49,1273.83 L1825.20,1274.54 L1829.92,1275.25 L1834.63,1275.95 L1839.35,1276.65 L1844.06,1277.34 L1848.78,1278.03 L1853.49,1278.72 L1858.21,1279.40 L1862.92,1280.08 L1867.64,1280.75 L1872.35,1281.42 L1877.06,1282.09 L1881.78,1282.75 L1886.49,1283.41 L1891.21,1284.06 L1895.92,1284.72 L1900.64,1285.36 L1905.35,1286.01 L1910.07,1286.65 L1914.78,1287.28 L1919.50,1287.91 L1924.21,1288.54 L1928.92,1289.17 L1933.64,1289.79 L1938.35,1290.41 L1943.07,1291.02 L1947.78,1291.63 L1952.50,1292.24 L1957.21,1292.85 L1961.93,1293.45 L1966.64,1294.05 L1971.35,1294.64 L1976.07,1295.23 L1980.78,1295.82 L1985.50,1296.41 L1990.21,1296.99 L1994.93,1297.57 L1999.64,1298.14 L2004.36,1298.71 L2009.07,1299.28 L2013.79,1299.85 L2018.50,1300.41 L2023.21,1300.97 L2027.93,1301.53 L2032.64,1302.08 L2037.36,1302.63 L2042.07,1303.18 L2046.79,1303.73 L2051.50,1304.27 L2056.22,1304.81 L2060.93,1305.35 L2065.65,1305.88 L2070.36,1306.41 L2075.07,1306.94 L2079.79,1307.47 L2084.50,1307.99 L2089.22,1308.51 L2093.93,1309.03 L2098.65,1309.54 L2103.36,1310.06 L2108.08,1310.57 L2112.79,1311.07 L2117.50,1311.58 L2122.22,1312.08 L2126.93,1312.58 L2131.65,1313.08 L2136.36,1313.57 L2141.08,1314.06 L2145.79,1314.55 L2150.51,1315.04 L2155.22,1315.52 L2159.94,1316.01 L2164.65,1316.49 L2169.36,1316.96 L2174.08,1317.44 L2178.79,1317.91 L2183.51,1318.38 L2188.22,1318.85 L2192.94,1319.32 L2197.65,1319.78 L2202.37,1320.24 L2207.08,1320.70 L2211.80,1321.16 L2216.51,1321.61 L2221.22,1322.07 L2225.94,1322.52 L2230.65,1322.96 L2235.37,1323.41 L2240.08,1323.85 L2244.80,1324.30 L2249.51,1324.74 L2254.23,1325.17 L2258.94,1325.61 L2263.65,1326.04 L2268.37,1326.47 L2273.08,1326.90 L2277.80,1327.33 L2282.51,1327.76 L2287.23,1328.18 L2291.94,1328.60 L2296.66,1329.02 L2301.37,1329.44 L2306.09,1329.85 L2310.80,1330.27" stroke="#ff0000" stroke-width="9.5"/>
<path d="M528.02,202.50 L529.27,207.57 L530.52,212.62 L531.76,217.66 L533.01,222.68 L534.26,227.69 L535.51,232.68 L536.76,237.65 L538.00,242.61 L539.25,247.55 L540.50,252.47 L541.75,257.37 L543.00,262.25 L544.24,267.11 L545.49,271.96 L546.74,276.78 L547.99,281.58 L549.24,286.37 L550.48,291.13 L551.73,295.87 L552.98,300.59 L554.23,305.29 L555.48,309.96 L556.72,314.62 L557.97,319.25 L559.22,323.86 L560.47,328.45 L561.71,333.02 L562.96,337.57 L564.21,342.09 L565.46,346.59 L566.71,351.07 L567.95,355.52 L569.20,359.96 L570.45,364.37 L571.70,368.75 L572.95,373.12 L574.19,377.46 L575.44,381.78 L576.69,386.08 L577.94,390.36 L579.19,394.61 L580.43,398.84 L581.68,403.05 L582.93,407.24 L584.18,411.40 L585.43,415.54 L586.67,419.66 L587.92,423.76 L589.17,427.83 L590.42,431.89 L591.67,435.92 L592.91,439.93 L594.16,443.92 L595.41,447.88 L596.66,451.83 L597.91,455.75 L599.15,459.65 L600.40,463.53 L601.65,467.39 L602.90,471.23 L604.15,475.05 L605.39,478.85 L606.64,482.62 L607.89,486.38 L609.14,490.11 L610.39,493.82 L611.63,497.52 L612.88,501.19 L614.13,504.85 L615.38,508.48 L616.63,512.09 L617.87,515.69 L619.12,519.26 L620.37,522.82 L621.62,526.35 L622.86,529.87 L624.11,533.36 L625.36,536.84 L626.61,540.30 L627.86,543.74 L629.10,547.16 L630.35,550.56 L631.60,553.95 L632.85,557.31 L634.10,560.66 L635.34,563.99 L636.59,567.30 L637.84,570.59 L639.09,573.87 L640.34,577.12 L641.58,580.36 L642.83,583.59 L644.08,586.79 L645.33,589.98 L646.58,593.15 L647.82,596.31 L649.07,599.44 L650.32,602.56 L651.57,605.67 L652.82,608.75 L654.06,611.82 L655.31,614.88 L656.56,617.92 L657.81,620.94 L659.06,623.94 L660.30,626.93 L661.55,629.91 L662.80,632.87 L664.05,635.81 L665.30,638.74 L666.54,641.65 L667.79,644.55 L669.04,647.43 L670.29,650.30 L671.54,653.15 L672.78,655.99 L674.03,658.81 L675.28,661.62 L676.53,664.41 L677.78,667.19 L679.02,669.95 L680.27,672.70 L681.52,675.44 L682.77,678.16 L684.01,680.87 L685.26,683.57 L686.51,686.25 L687.76,688.91 L689.01,691.57 L690.25,694.21 L691.50,696.83 L692.75,699.45 L694.00,702.05 L695.25,704.63 L696.49,707.21 L697.74,709.77 L698.99,712.32 L700.24,714.86 L701.49,717.38 L702.73,719.89 L703.98,722.39 L705.23,724.87 L706.48,727.35 L707.73,729.81 L708.97,732.26 L710.22,734.69 L711.47,737.12 L712.72,739.53 L713.97,741.93 L715.21,744.32 L716.46,746.70 L717.71,749.07 L718.96,751.42 L720.21,753.77 L721.45,756.10 L722.70,758.42 L723.95,760.73 L725.20,763.03 L726.45,765.32 L727.69,767.60 L728.94,769.86 L730.19,772.12 L731.44,774.36 L732.69,776.60 L733.93,778.82 L735.18,781.03 L736.43,783.23 L737.68,785.43 L738.93,787.61 L740.17,789.78 L741.42,791.94 L742.67,794.09 L743.92,796.23 L745.17,798.36 L746.41,800.49 L747.66,802.60 L748.91,804.70 L750.16,806.79 L751.40,808.87 L752.65,810.95 L753.90,813.01 L755.15,815.06 L756.40,817.11 L757.64,819.14 L758.89,821.17 L760.14,823.19 L761.39,825.20 L762.64,827.19 L763.88,829.18 L765.13,831.16 L766.38,833.14 L767.63,835.10 L768.88,837.05 L770.12,839.00 L771.37,840.93 L772.62,842.86 L773.87,844.78 L775.12,846.69 L776.36,848.60 L777.61,850.49 L778.86,852.38 L780.11,854.25 L781.36,856.12 L782.60,857.98 L783.85,859.84 L785.10,861.68 L786.35,863.52 L787.60,865.35 L788.84,867.17 L790.09,868.98 L791.34,870.79 L792.59,872.58 L793.84,874.37 L795.08,876.16 L796.33,877.93 L797.58,879.70 L798.83,881.46 L800.08,883.21 L801.32,884.95 L802.57,886.69 L803.82,888.42 L805.07,890.14 L806.32,891.85 L807.56,893.56 L808.81,895.26 L810.06,896.96 L811.31,898.64 L812.55,900.32 L813.80,901.99 L815.05,903.66 L816.30,905.32 L817.55,906.97 L818.79,908.61 L820.04,910.25 L821.29,911.88 L822.54,913.51 L823.79,915.12 L825.03,916.74 L826.28,918.34 L827.53,919.94 L828.78,921.53 L830.03,923.11 L831.27,924.69 L832.52,926.26 L833.77,927.83 L835.02,929.39 L836.27,930.94 L837.51,932.49 L838.76,934.03 L840.01,935.56 L841.26,937.09 L842.51,938.62 L843.75,940.13 L845.00,941.64 L846.25,943.15 L847.50,944.64 L848.75,946.14 L849.99,947.62 L851.24,949.10 L852.49,950.58 L853.74,952.05 L854.99,953.51 L856.23,954.97 L857.48,956.42 L858.73,957.86 L859.98,959.30 L861.23,960.74 L862.47,962.17 L863.72,963.59 L864.97,965.01 L866.22,966.42 L867.47,967.83 L868.71,969.23 L869.96,970.63 L871.21,972.02 L872.46,973.41 L873.70,974.79 L874.95,976.16 L876.20,977.53 L877.45,978.90 L878.70,980.26 L879.94,981.61 L881.19,982.96 L882.44,984.31 L883.69,985.64 L884.94,986.98 L886.18,988.31 L887.43,989.63 L888.68,990.95 L889.93,992.27 L891.18,993.58 L892.42,994.88 L893.67,996.18 L894.92,997.48 L896.17,998.77 L897.42,1000.05 L898.66,1001.33 L899.91,1002.61 L901.16,1003.88 L905.87,1008.64 L910.59,1013.34 L915.30,1017.97 L920.02,1022.54 L924.73,1027.05 L929.45,1031.50 L934.16,1035.89 L938.88,1040.22 L943.59,1044.50 L948.31,1048.72 L953.02,1052.88 L957.73,1056.99 L962.45,1061.05 L967.16,1065.06 L971.88,1069.02 L976.59,1072.93 L981.31,1076.79 L986.02,1080.60 L990.74,1084.37 L995.45,1088.09 L1000.16,1091.76 L1004.88,1095.39 L1009.59,1098.98 L1014.31,1102.52 L1019.02,1106.02 L1023.74,1109.48 L1028.45,1112.90 L1033.17,1116.28 L1037.88,1119.62 L1042.60,1122.93 L1047.31,1126.19 L1052.02,1129.42 L1056.74,1132.61 L1061.45,1135.76 L1066.17,1138.88 L1070.88,1141.97 L1075.60,1145.02 L1080.31,1148.03 L1085.03,1151.02 L1089.74,1153.97 L1094.46,1156.89 L1099.17,1159.77 L1103.88,1162.63 L1108.60,1165.46 L1113.31,1168.25 L1118.03,1171.02 L1122.74,1173.76 L1127.46,1176.46 L1132.17,1179.15 L1136.89,1181.80 L1141.60,1184.42 L1146.31,1187.02 L1151.03,1189.59 L1155.74,1192.14 L1160.46,1194.66 L1165.17,1197.16 L1169.89,1199.63 L1174.60,1202.07 L1179.32,1204.49 L1184.03,1206.89 L1188.75,1209.26 L1193.46,1211.62 L1198.17,1213.94 L1202.89,1216.25 L1207.60,1218.53 L1212.32,1220.79 L1217.03,1223.03 L1221.75,1225.25 L1226.46,1227.45 L1231.18,1229.63 L1235.89,1231.78 L1240.61,1233.92 L1245.32,1236.04 L1250.03,1238.14 L1254.75,1240.21 L1259.46,1242.27 L1264.18,1244.31 L1268.89,1246.34 L1273.61,1248.34 L1278.32,1250.32 L1283.04,1252.29 L1287.75,1254.24 L1292.46,1256.18 L1297.18,1258.09 L1301.89,1259.99 L1306.61,1261.88 L1311.32,1263.74 L1316.04,1265.59 L1320.75,1267.43 L1325.47,1269.25 L1330.18,1271.05 L1334.90,1272.84 L1339.61,1274.61 L1344.32,1276.37 L1349.04,1278.11 L1353.75,1279.84 L1358.47,1281.55 L1363.18,1283.25 L1367.90,1284.94 L1372.61,1286.61 L1377.33,1288.26 L1382.04,1289.91 L1386.76,1291.54 L1391.47,1293.16 L1396.18,1294.76 L1400.90,1296.35 L1405.61,1297.93 L1410.33,1299.50 L1415.04,1301.05 L1419.76,1302.59 L1424.47,1304.12 L1429.19,1305.64 L1433.90,1307.15 L1438.61,1308.64 L1443.33,1310.12 L1448.04,1311.59 L1452.76,1313.05 L1457.47,1314.50 L1462.19,1315.94 L1466.90,1317.37 L1471.62,1318.78 L1476.33,1320.19 L1481.05,1321.58 L1485.76,1322.96 L1490.47,1324.34 L1495.19,1325.70 L1499.90,1327.05 L1504.62,1328.40 L1509.33,1329.73 L1514.05,1331.05 L1518.76,1332.37 L1523.48,1333.67 L1528.19,1334.96 L1532.91,1336.25 L1537.62,1337.53 L1542.33,1338.79 L1547.05,1340.05 L1551.76,1341.30 L1556.48,1342.54 L1561.19,1343.77 L1565.91,1344.99 L1570.62,1346.21 L1575.34,1347.41 L1580.05,1348.61 L1584.76,1349.80 L1589.48,1350.98 L1594.19,1352.15 L1598.91,1353.31 L1603.62,1354.47 L1608.34,1355.62 L1613.05,1356.76 L1617.77,1357.89 L1622.48,1359.02 L1627.20,1360.13 L1631.91,1361.24 L1636.62,1362.35 L1641.34,1363.44 L1646.05,1364.53 L1650.77,1365.61 L1655.48,1366.68 L1660.20,1367.75 L1664.91,1368.81 L1669.63,1369.86 L1674.34,1370.91 L1679.05,1371.95 L1683.77,1372.98 L1688.48,1374.00 L1693.20,1375.02 L1697.91,1376.04 L1702.63,1377.04 L1707.34,1378.04 L1712.06,1379.03 L1716.77,1380.02 L1721.49,1381.00 L1726.20,1381.98 L1730.91,1382.94 L1735.63,1383.91 L1740.34,1384.86 L1745.06,1385.81 L1749.77,1386.76 L1754.49,1387.69 L1759.20,1388.63 L1763.92,1389.55 L1768.63,1390.48 L1773.35,1391.39 L1778.06,1392.30 L1782.77,1393.21 L1787.49,1394.10 L1792.20,1395.00 L1796.92,1395.89 L1801.63,1396.77 L1806.35,1397.65 L1811.06,1398.52 L1815.78,1399.39 L1820.49,1400.25 L1825.20,1401.11 L1829.92,1401.96 L1834.63,1402.80 L1839.35,1403.65 L1844.06,1404.48 L1848.78,1405.32 L1853.49,1406.14 L1858.21,1406.97 L1862.92,1407.78 L1867.64,1408.60 L1872.35,1409.40 L1877.06,1410.21 L1881.78,1411.01 L1886.49,1411.80 L1891.21,1412.59 L1895.92,1413.38 L1900.64,1414.16 L1905.35,1414.94 L1910.07,1415.71 L1914.78,1416.48 L1919.50,1417.24 L1924.21,1418.00 L1928.92,1418.76 L1933.64,1419.51 L1938.35,1420.25 L1943.07,1421.00 L1947.78,1421.74 L1952.50,1422.47 L1957.21,1423.20 L1961.93,1423.93 L1966.64,1424.65 L1971.35,1425.37 L1976.07,1426.08 L1980.78,1426.80 L1985.50,1427.50 L1990.21,1428.21 L1994.93,1428.91 L1999.64,1429.60 L2004.36,1430.30 L2009.07,1430.98 L2013.79,1431.67 L2018.50,1432.35 L2023.21,1433.03 L2027.93,1433.70 L2032.64,1434.37 L2037.36,1435.04 L2042.07,1435.70 L2046.79,1436.37 L2051.50,1437.02 L2056.22,1437.68 L2060.93,1438.33 L2065.65,1438.97 L2070.36,1439.62 L2075.07,1440.26 L2079.79,1440.89 L2084.50,1441.53 L2089.22,1442.16 L2093.93,1442.79 L2098.65,1443.41 L2103.36,1444.03 L2108.08,1444.65 L2112.79,1445.26 L2117.50,1445.88 L2122.22,1446.48 L2126.93,1447.09 L2131.65,1447.69 L2136.36,1448.29 L2141.08,1448.89 L2145.79,1449.48 L2150.51,1450.07 L2155.22,1450.66 L2159.94,1451.25 L2164.65,1451.83 L2169.36,1452.41 L2174.08,1452.98 L2178.79,1453.56 L2183.51,1454.13 L2188.22,1454.70 L2192.94,1455.26 L2197.65,1455.83 L2202.37,1456.39 L2207.08,1456.94 L2211.80,1457.50 L2216.51,1458.05 L2221.22,1458.60 L2225.94,1459.15 L2230.65,1459.69 L2235.37,1460.23 L2240.08,1460.77 L2244.80,1461.31 L2249.51,1461.84 L2254.23,1462.38 L2258.94,1462.91 L2263.65,1463.43 L2268.37,1463.96 L2273.08,1464.48 L2277.80,1465.00 L2282.51,1465.52 L2287.23,1466.03 L2291.94,1466.54 L2296.66,1467.05 L2301.37,1467.56 L2306.09,1468.07 L2310.80,1468.57" stroke="#ff00ff" stroke-width="5.2"/>
<path d="M537.93,202.50 L539.14,207.04 L540.36,211.90 L541.57,216.74 L542.79,221.56 L544.00,226.36 L545.22,231.13 L546.43,235.88 L547.65,240.61 L548.86,245.32 L550.08,250.01 L551.29,254.67 L552.51,259.31 L553.72,263.94 L554.94,268.54 L556.15,273.12 L557.37,277.67 L558.58,282.21 L559.80,286.73 L561.01,291.22 L562.23,295.70 L563.44,300.15 L564.65,304.59 L565.87,309.00 L567.08,313.39 L568.30,317.76 L569.51,322.12 L570.73,326.45 L571.94,330.76 L573.16,335.05 L574.37,339.33 L575.59,343.58 L576.80,347.81 L578.02,352.03 L579.23,356.22 L580.45,360.40 L581.66,364.55 L582.88,368.69 L584.09,372.81 L585.31,376.91 L586.52,380.99 L587.74,385.05 L588.95,389.09 L590.17,393.11 L591.38,397.12 L592.60,401.10 L593.81,405.07 L595.03,409.02 L596.24,412.96 L597.46,416.87 L598.67,420.76 L599.88,424.64 L601.10,428.50 L602.31,432.34 L603.53,436.17 L604.74,439.98 L605.96,443.77 L607.17,447.54 L608.39,451.29 L609.60,455.03 L610.82,458.75 L612.03,462.45 L613.25,466.14 L614.46,469.81 L615.68,473.46 L616.89,477.09 L618.11,480.71 L619.32,484.31 L620.54,487.90 L621.75,491.47 L622.97,495.02 L624.18,498.55 L625.40,502.07 L626.61,505.58 L627.83,509.06 L629.04,512.53 L630.26,515.99 L631.47,519.43 L632.68,522.85 L633.90,526.26 L635.11,529.65 L636.33,533.03 L637.54,536.39 L638.76,539.73 L639.97,543.06 L641.19,546.38 L642.40,549.67 L643.62,552.96 L644.83,556.23 L646.05,559.48 L647.26,562.72 L648.48,565.94 L649.69,569.15 L650.91,572.35 L652.12,575.53 L653.34,578.69 L654.55,581.84 L655.77,584.98 L656.98,588.10 L658.20,591.20 L659.41,594.30 L660.63,597.37 L661.84,600.44 L663.06,603.49 L664.27,606.52 L665.48,609.55 L666.70,612.55 L667.91,615.55 L669.13,618.53 L670.34,621.50 L671.56,624.45 L672.77,627.39 L673.99,630.31 L675.20,633.23 L676.42,636.12 L677.63,639.01 L678.85,641.88 L680.06,644.74 L681.28,647.59 L682.49,650.42 L683.71,653.24 L684.92,656.05 L686.14,658.84 L687.35,661.62 L688.57,664.39 L689.78,667.14 L691.00,669.89 L692.21,672.62 L693.43,675.33 L694.64,678.04 L695.86,680.73 L697.07,683.41 L698.29,686.08 L699.50,688.73 L700.71,691.38 L701.93,694.01 L703.14,696.63 L704.36,699.23 L705.57,701.83 L706.79,704.41 L708.00,706.98 L709.22,709.54 L710.43,712.09 L711.65,714.62 L712.86,717.15 L714.08,719.66 L715.29,722.16 L716.51,724.65 L717.72,727.13 L718.94,729.59 L720.15,732.05 L721.37,734.49 L722.58,736.92 L723.80,739.34 L725.01,741.75 L726.23,744.15 L727.44,746.54 L728.66,748.92 L729.87,751.28 L731.09,753.64 L732.30,755.98 L733.51,758.31 L734.73,760.64 L735.94,762.95 L737.16,765.25 L738.37,767.54 L739.59,769.82 L740.80,772.09 L742.02,774.35 L743.23,776.60 L744.45,778.84 L745.66,781.06 L746.88,783.28 L748.09,785.49 L749.31,787.69 L750.52,789.87 L751.74,792.05 L752.95,794.22 L754.17,796.37 L755.38,798.52 L756.60,800.66 L757.81,802.79 L759.03,804.90 L760.24,807.01 L761.46,809.11 L762.67,811.20 L763.89,813.28 L765.10,815.34 L766.32,817.40 L767.53,819.45 L768.74,821.50 L769.96,823.53 L771.17,825.55 L772.39,827.56 L773.60,829.56 L774.82,831.56 L776.03,833.54 L777.25,835.52 L778.46,837.49 L779.68,839.44 L780.89,841.39 L782.11,843.33 L783.32,845.26 L784.54,847.18 L785.75,849.10 L786.97,851.00 L788.18,852.90 L789.40,854.78 L790.61,856.66 L791.83,858.53 L793.04,860.39 L794.26,862.24 L795.47,864.09 L796.69,865.92 L797.90,867.75 L799.12,869.57 L800.33,871.38 L801.54,873.18 L802.76,874.97 L803.97,876.76 L805.19,878.53 L806.40,880.30 L807.62,882.06 L808.83,883.81 L810.05,885.56 L811.26,887.30 L812.48,889.02 L813.69,890.74 L814.91,892.46 L816.12,894.16 L817.34,895.86 L818.55,897.55 L819.77,899.23 L820.98,900.90 L822.20,902.56 L823.41,904.22 L824.63,905.87 L825.84,907.52 L827.06,909.15 L828.27,910.78 L829.49,912.40 L830.70,914.01 L831.92,915.62 L833.13,917.21 L834.34,918.80 L835.56,920.39 L836.77,921.96 L837.99,923.53 L839.20,925.09 L840.42,926.65 L841.63,928.19 L842.85,929.73 L844.06,931.26 L845.28,932.79 L846.49,934.31 L847.71,935.82 L848.92,937.32 L850.14,938.82 L851.35,940.31 L852.57,941.80 L853.78,943.27 L855.00,944.74 L856.21,946.21 L857.43,947.66 L858.64,949.11 L859.86,950.56 L861.07,951.99 L862.29,953.42 L863.50,954.85 L864.72,956.26 L865.93,957.67 L867.15,959.08 L868.36,960.48 L869.57,961.87 L870.79,963.25 L872.00,964.63 L873.22,966.00 L874.43,967.37 L875.65,968.73 L876.86,970.08 L878.08,971.43 L879.29,972.77 L880.51,974.10 L881.72,975.43 L882.94,976.75 L884.15,978.07 L885.37,979.38 L886.58,980.68 L887.80,981.98 L889.01,983.27 L890.23,984.56 L891.44,985.84 L892.66,987.11 L893.87,988.38 L895.09,989.64 L896.30,990.90 L897.52,992.15 L898.73,993.39 L899.95,994.63 L901.16,995.87 L905.87,1000.60 L910.59,1005.25 L915.30,1009.82 L920.02,1014.30 L924.73,1018.71 L929.45,1023.04 L934.16,1027.29 L938.88,1031.46 L943.59,1035.56 L948.31,1039.59 L953.02,1043.55 L957.73,1047.44 L962.45,1051.25 L967.16,1055.00 L971.88,1058.69 L976.59,1062.30 L981.31,1065.86 L986.02,1069.35 L990.74,1072.78 L995.45,1076.14 L1000.16,1079.45 L1004.88,1082.70 L1009.59,1085.89 L1014.31,1089.03 L1019.02,1092.10 L1023.74,1095.13 L1028.45,1098.10 L1033.17,1101.02 L1037.88,1103.88 L1042.60,1106.70 L1047.31,1109.46 L1052.02,1112.18 L1056.74,1114.84 L1061.45,1117.46 L1066.17,1120.04 L1070.88,1122.57 L1075.60,1125.05 L1080.31,1127.49 L1085.03,1129.88 L1089.74,1132.24 L1094.46,1134.55 L1099.17,1136.82 L1103.88,1139.05 L1108.60,1141.24 L1113.31,1143.39 L1118.03,1145.50 L1122.74,1147.58 L1127.46,1149.62 L1132.17,1151.62 L1136.89,1153.59 L1141.60,1155.52 L1146.31,1157.42 L1151.03,1159.28 L1155.74,1161.11 L1160.46,1162.91 L1165.17,1164.67 L1169.89,1166.41 L1174.60,1168.11 L1179.32,1169.79 L1184.03,1171.43 L1188.75,1173.05 L1193.46,1174.63 L1198.17,1176.19 L1202.89,1177.72 L1207.60,1179.22 L1212.32,1180.70 L1217.03,1182.15 L1221.75,1183.58 L1226.46,1184.98 L1231.18,1186.35 L1235.89,1187.70 L1240.61,1189.03 L1245.32,1190.33 L1250.03,1191.61 L1254.75,1192.86 L1259.46,1194.10 L1264.18,1195.31 L1268.89,1196.50 L1273.61,1197.67 L1278.32,1198.82 L1283.04,1199.95 L1287.75,1201.06 L1292.46,1202.14 L1297.18,1203.21 L1301.89,1204.26 L1306.61,1205.30 L1311.32,1206.31 L1316.04,1207.30 L1320.75,1208.28 L1325.47,1209.24 L1330.18,1210.19 L1334.90,1211.11 L1339.61,1212.02 L1344.32,1212.92 L1349.04,1213.79 L1353.75,1214.66 L1358.47,1215.50 L1363.18,1216.34 L1367.90,1217.15 L1372.61,1217.96 L1377.33,1218.74 L1382.04,1219.52 L1386.76,1220.28 L1391.47,1221.03 L1396.18,1221.76 L1400.90,1222.48 L1405.61,1223.19 L1410.33,1223.89 L1415.04,1224.57 L1419.76,1225.24 L1424.47,1225.90 L1429.19,1226.55 L1433.90,1227.18 L1438.61,1227.81 L1443.33,1228.42 L1448.04,1229.02 L1452.76,1229.61 L1457.47,1230.20 L1462.19,1230.77 L1466.90,1231.33 L1471.62,1231.88 L1476.33,1232.42 L1481.05,1232.95 L1485.76,1233.47 L1490.47,1233.99 L1495.19,1234.49 L1499.90,1234.99 L1504.62,1235.47 L1509.33,1235.95 L1514.05,1236.42 L1518.76,1236.88 L1523.48,1237.33 L1528.19,1237.77 L1532.91,1238.21 L1537.62,1238.64 L1542.33,1239.06 L1547.05,1239.47 L1551.76,1239.88 L1556.48,1240.28 L1561.19,1240.67 L1565.91,1241.06 L1570.62,1241.43 L1575.34,1241.81 L1580.05,1242.17 L1584.76,1242.53 L1589.48,1242.88 L1594.19,1243.23 L1598.91,1243.57 L1603.62,1243.90 L1608.34,1244.23 L1613.05,1244.55 L1617.77,1244.87 L1622.48,1245.18 L1627.20,1245.48 L1631.91,1245.78 L1636.62,1246.07 L1641.34,1246.36 L1646.05,1246.65 L1650.77,1246.93 L1655.48,1247.20 L1660.20,1247.47 L1664.91,1247.73 L1669.63,1247.99 L1674.34,1248.25 L1679.05,1248.50 L1683.77,1248.74 L1688.48,1248.99 L1693.20,1249.22 L1697.91,1249.46 L1702.63,1249.69 L1707.34,1249.91 L1712.06,1250.13 L1716.77,1250.35 L1721.49,1250.56 L1726.20,1250.77 L1730.91,1250.98 L1735.63,1251.18 L1740.34,1251.38 L1745.06,1251.57 L1749.77,1251.76 L1754.49,1251.95 L1759.20,1252.14 L1763.92,1252.32 L1768.63,1252.49 L1773.35,1252.67 L1778.06,1252.84 L1782.77,1253.01 L1787.49,1253.18 L1792.20,1253.34 L1796.92,1253.50 L1801.63,1253.66 L1806.35,1253.81 L1811.06,1253.96 L1815.78,1254.11 L1820.49,1254.26 L1825.20,1254.40 L1829.92,1254.54 L1834.63,1254.68 L1839.35,1254.82 L1844.06,1254.95 L1848.78,1255.08 L1853.49,1255.21 L1858.21,1255.34 L1862.92,1255.46 L1867.64,1255.58 L1872.35,1255.70 L1877.06,1255.82 L1881.78,1255.94 L1886.49,1256.05 L1891.21,1256.16 L1895.92,1256.27 L1900.64,1256.38 L1905.35,1256.49 L1910.07,1256.59 L1914.78,1256.69 L1919.50,1256.79 L1924.21,1256.89 L1928.92,1256.99 L1933.64,1257.08 L1938.35,1257.18 L1943.07,1257.27 L1947.78,1257.36 L1952.50,1257.45 L1957.21,1257.53 L1961.93,1257.62 L1966.64,1257.70 L1971.35,1257.79 L1976.07,1257.87 L1980.78,1257.95 L1985.50,1258.03 L1990.21,1258.10 L1994.93,1258.18 L1999.64,1258.25 L2004.36,1258.32 L2009.07,1258.40 L2013.79,1258.47 L2018.50,1258.53 L2023.21,1258.60 L2027.93,1258.67 L2032.64,1258.73 L2037.36,1258.80 L2042.07,1258.86 L2046.79,1258.92 L2051.50,1258.98 L2056.22,1259.04 L2060.93,1259.10 L2065.65,1259.16 L2070.36,1259.22 L2075.07,1259.27 L2079.79,1259.33 L2084.50,1259.38 L2089.22,1259.43 L2093.93,1259.48 L2098.65,1259.53 L2103.36,1259.58 L2108.08,1259.63 L2112.79,1259.68 L2117.50,1259.73 L2122.22,1259.78 L2126.93,1259.82 L2131.65,1259.87 L2136.36,1259.91 L2141.08,1259.95 L2145.79,1260.00 L2150.51,1260.04 L2155.22,1260.08 L2159.94,1260.12 L2164.65,1260.16 L2169.36,1260.20 L2174.08,1260.24 L2178.79,1260.27 L2183.51,1260.31 L2188.22,1260.35 L2192.94,1260.38 L2197.65,1260.42 L2202.37,1260.45 L2207.08,1260.48 L2211.80,1260.52 L2216.51,1260.55 L2221.22,1260.58 L2225.94,1260.61 L2230.65,1260.64 L2235.37,1260.67 L2240.08,1260.70 L2244.80,1260.73 L2249.51,1260.76 L2254.23,1260.79 L2258.94,1260.82 L2263.65,1260.84 L2268.37,1260.87 L2273.08,1260.90 L2277.80,1260.92 L2282.51,1260.95 L2287.23,1260.97 L2291.94,1261.00 L2296.66,1261.02 L2301.37,1261.04 L2306.09,1261.07 L2310.80,1261.09" stroke="#0000ff" stroke-width="5.0"/>
<path d="M237.80 202.50H532.17" stroke="#000" stroke-width="3.0"/>
</g>
<text x="237.80" y="1779.00" font-size="64.00" text-anchor="middle">0</text>
<text x="652.40" y="1779.00" font-size="64.00" text-anchor="middle">1</text><path d="M638.48 1773.22h11.92v7.78h-11.92ZM656.65 1773.22h11.42v7.78h-11.42Z" fill="#fff"/>
<text x="1067.00" y="1779.00" font-size="64.00" text-anchor="middle">2</text>
<text x="1481.60" y="1779.00" font-size="64.00" text-anchor="middle">3</text>
<text x="1896.20" y="1779.00" font-size="64.00" text-anchor="middle">4</text>
<text x="2310.80" y="1779.00" font-size="64.00" text-anchor="middle">5</text>
<text x="212.50" y="1714.30" font-size="64.00" text-anchor="end">0</text>
<text x="212.50" y="1416.80" font-size="64.00" text-anchor="end">0.2</text>
<text x="212.50" y="1119.30" font-size="64.00" text-anchor="end">0.4</text>
<text x="212.50" y="821.80" font-size="64.00" text-anchor="end">0.6</text>
<text x="212.50" y="524.30" font-size="64.00" text-anchor="end">0.8</text>
<text x="212.50" y="226.80" font-size="64.00" text-anchor="end">1</text><path d="M180.78 221.02h11.92v7.78h-11.92ZM198.96 221.02h11.42v7.78h-11.42Z" fill="#fff"/>
<text x="1274.30" y="1874.60" font-size="70.30" text-anchor="middle">Non-dimesional plate slenderness</text>
<g transform="translate(84.1 871.87) rotate(-90)"><text x="0.00" y="0.00" font-size="70.20" text-anchor="middle">Redution factor for local buckling</text></g>
<path d="M1573.0 131.2V170.4M1553.4 150.8H1592.6M1559.1 136.9L1586.9 164.7M1559.1 164.7L1586.9 136.9" fill="none" stroke="#ff0000" stroke-width="3.0"/>
<path d="M1476.8 229.1H1669.1" stroke="#00ff00" stroke-width="6.3"/>
<path d="M1476.8 307.4H1669.1" stroke="#ff0000" stroke-width="9.5"/>
<path d="M1476.8 385.7H1669.1" stroke="#ff00ff" stroke-width="5.0"/>
<path d="M1476.8 464.0H1669.1" stroke="#0000ff" stroke-width="5.0"/>
<g transform="translate(1682.8 173.7) scale(1 1.045)"><text x="0.00" y="0.00" font-size="57.80" style="fill:#000">Numerical results</text></g>
<g transform="translate(1682.8 252.0) scale(1 1.045)"><text x="0.00" y="0.00" font-size="57.80" style="fill:#000">EN 1993-1-5</text><path d="M99.74 -5.32h10.83v7.32h-10.83ZM116.28 -5.32h10.38v7.32h-10.38ZM247.55 -5.32h10.83v7.32h-10.83ZM264.09 -5.32h10.38v7.32h-10.38Z" fill="#fff"/></g>
<g transform="translate(1682.8 330.3) scale(1 1.045)"><text x="0.00" y="0.00" font-size="57.80" style="fill:#000">FE model fitted curve</text></g>
<g transform="translate(1682.8 408.6) scale(1 1.045)"><text x="0.00" y="0.00" font-size="57.80" style="fill:#000">EN 1993-1-5 Annex B</text><path d="M99.74 -5.32h10.83v7.32h-10.83ZM116.28 -5.32h10.38v7.32h-10.38ZM247.55 -5.32h10.83v7.32h-10.83ZM264.09 -5.32h10.38v7.32h-10.38Z" fill="#fff"/></g>
<g transform="translate(1682.8 486.9) scale(1 1.045)"><text x="0.00" y="0.00" font-size="57.80" style="fill:#000">Schillo, 2017</text><path d="M270.04 -5.32h10.83v7.32h-10.83ZM286.58 -5.32h10.38v7.32h-10.38Z" fill="#fff"/></g>
</svg></body></html>
